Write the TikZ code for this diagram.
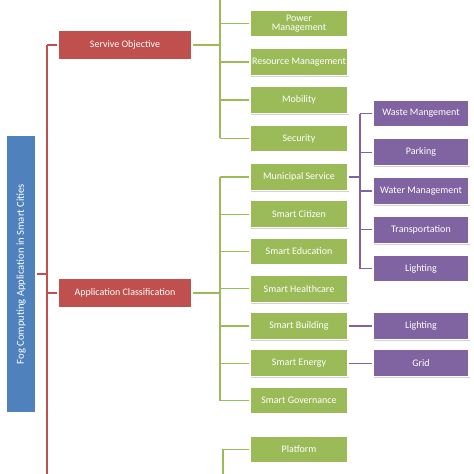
\documentclass[tikz,border=0pt]{standalone}
\usepackage{fontspec}
\setmainfont{Carlito}
\usepackage{tikz}
\usetikzlibrary{positioning,shadows}
\definecolor{boxred}{HTML}{C0504D}
\definecolor{boxgreen}{HTML}{9BBB59}
\definecolor{boxpurple}{HTML}{8064A2}
\definecolor{boxblue}{HTML}{4F81BD}
\tikzstyle{box} = [rectangle, minimum height=27pt, text centered, inner sep=1pt, draw=white, line width=1.2pt, text=white, font=\fontsize{10}{10.5}\selectfont, drop shadow={shadow xshift=0.8pt, shadow yshift=-1.3pt, fill=black!35, opacity=0.5}]
\tikzstyle{class} = [box, minimum width=134pt, minimum height=30pt, fill=boxred]
\tikzstyle{app} = [box, minimum width=98pt, align=center, fill=boxgreen]
\tikzstyle{sub} = [box, minimum width=96pt, fill=boxpurple]
\tikzstyle{redline} = [line width=1.4pt, boxred]
\tikzstyle{greenline} = [line width=1.4pt, boxgreen]
\tikzstyle{purpleline} = [line width=1.4pt, boxpurple]

\begin{document}
\begin{tikzpicture}[x=1pt,y=1pt]
\useasboundingbox (0,0) rectangle (474,-474);
\clip (0,0) rectangle (474,-474);
%
\node (fog) [box, fill=boxblue, minimum width=30pt, minimum height=278pt, font=\fontsize{10.6}{11}\selectfont] at (21,-274) {\rotatebox{90}{Fog Computing Application in Smart Cities}};
\node (objective) [class] at (125,-45) {Servive Objective};
\node (appclass) [class] at (125,-293) {Application Classification};
%
% service objectives
\begin{scope}[node distance=38.3pt]
\node (top) [app] at (299,14.8) {};
\node (power) [app, below of=top] {Power\\[-1pt] Management};
\node (resource) [app, below of=power] {Resource Management};
\node (mobility) [app, below of=resource] {Mobility};
\node (security) [app, below of=mobility] {Security};
\end{scope}
%
% application classes
\begin{scope}[node distance=37.25pt]
\node (municipal) [app] at (299,-177) {Municipal Service};
\node (citizen) [app, below of=municipal] {Smart Citizen};
\node (education) [app, below of=citizen] {Smart Education};
\node (healthcare) [app, below of=education] {Smart Healthcare};
\node (building) [app, below of=healthcare] {Smart Building};
\node (energy) [app, below of=building] {Smart Energy};
\node (governance) [app, below of=energy] {Smart Governance};
\end{scope}
\node (platform) [app] at (299,-449.5) {Platform};
\node (bottom) [app] at (299,-488) {};
%
% municipal services
\begin{scope}[node distance=38.75pt]
\node (waste) [sub] at (421,-113.5) {Waste Mangement};
\node (parking) [sub, below of=waste] {Parking};
\node (water) [sub, below of=parking] {Water Management};
\node (transport) [sub, below of=water] {Transportation};
\node (lighting) [sub, below of=transport] {Lighting};
\end{scope}
\node (lighting_b) [sub, right of=building, node distance=122pt] {Lighting};
\node (grid) [sub, right of=energy, node distance=122pt] {Grid};
%
\coordinate (rspine) at (47,0);
\coordinate (rend) at (47,-480);
\coordinate (gspine) at (220,0);
\coordinate (gend) at (223,-480);
\coordinate (pspine) at (360,0);
%
\draw [redline] (objective.west -| rspine) -- (rend);
\foreach \n in {fog.east,objective.west,appclass.west}
  \draw [redline] (\n) -- (\n -| rspine);
%
\draw [greenline] (top.west -| gspine) -- (security.west -| gspine);
\draw [greenline] (objective.east) -- (objective.east -| gspine);
\foreach \n in {top,power,resource,mobility,security}
  \draw [greenline] (\n.west) -- (\n.west -| gspine);
%
\draw [greenline] (municipal.west -| gspine) -- (governance.west -| gspine);
\draw [greenline] (appclass.east) -- (appclass.east -| gspine);
\foreach \n in {municipal,citizen,education,healthcare,building,energy,governance}
  \draw [greenline] (\n.west) -- (\n.west -| gspine);
%
\draw [greenline] (platform.west) -| (gend);
%
\draw [purpleline] (waste.west -| pspine) -- (lighting.west -| pspine);
\draw [purpleline] (municipal.east) -- (municipal.east -| pspine);
\foreach \n in {waste,parking,water,transport,lighting}
  \draw [purpleline] (\n.west) -- (\n.west -| pspine);
\draw [purpleline] (building) -- (lighting_b);
\draw [purpleline] (energy) -- (grid);
%
\end{tikzpicture}
\end{document}
